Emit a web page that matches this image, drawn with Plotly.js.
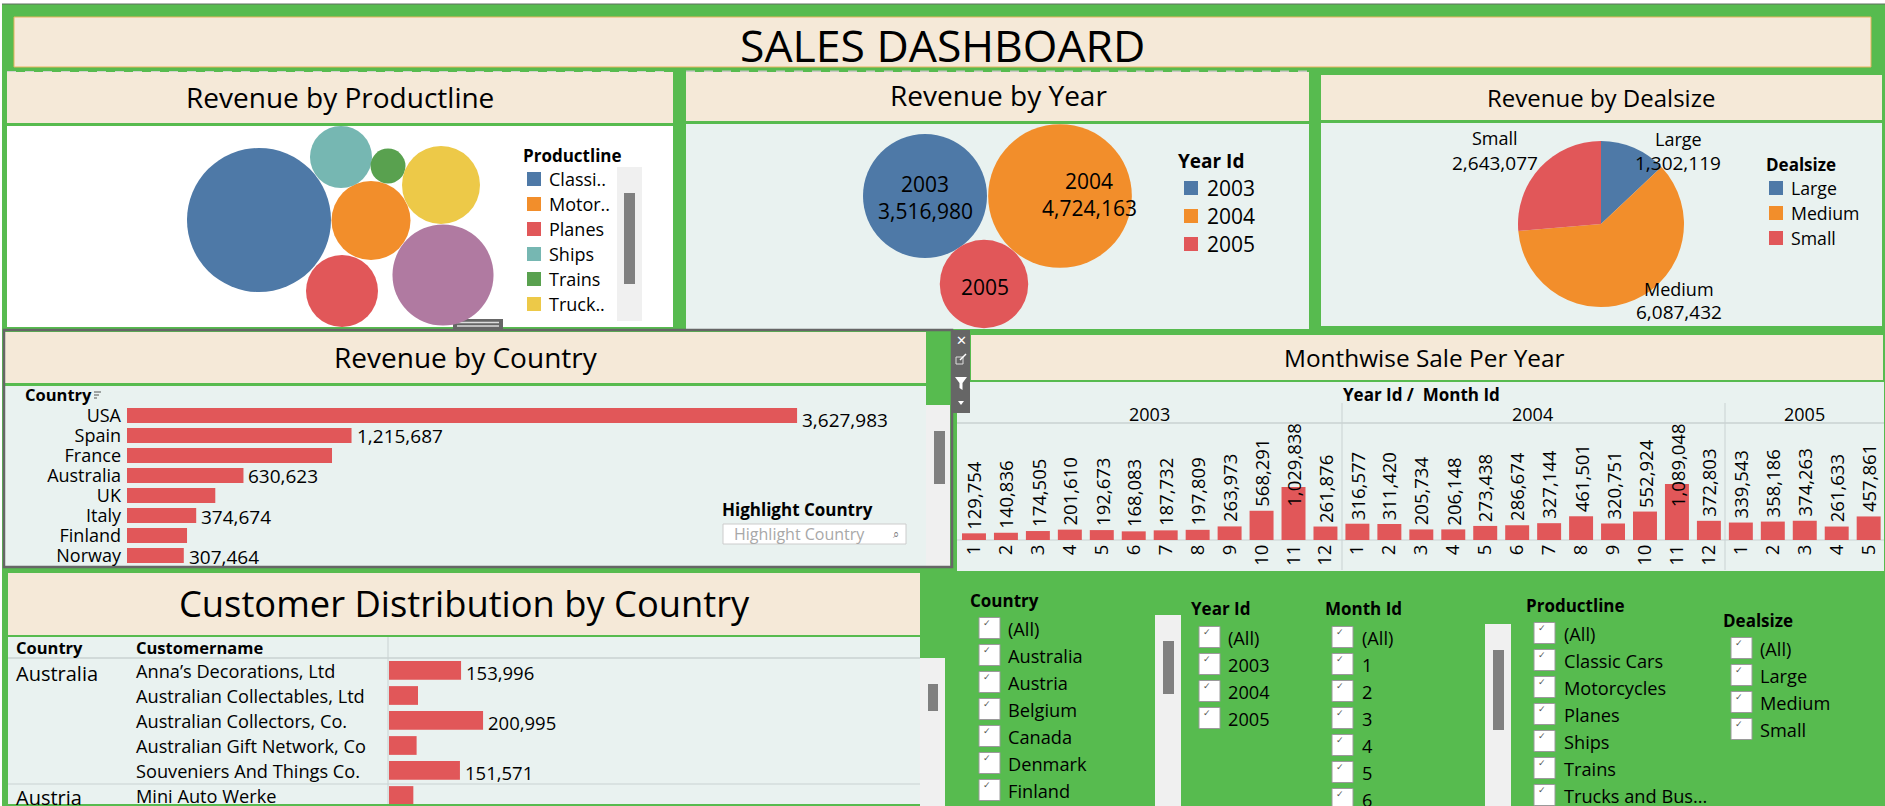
<!DOCTYPE html>
<html><head><meta charset="utf-8">
<script src="https://cdn.plot.ly/plotly-3.0.1.min.js"></script>
<style>html,body{margin:0;padding:0;background:#fff;overflow:hidden}#c{width:1885px;height:806px}</style>
</head><body><div id="c"></div>
<script>
// ---------- data ----------
const productLines = ["Classic Cars","Motorcycles","Planes","Ships","Trains","Trucks and Buses","Vintage Cars"];
const productRevenue = [3920000,1180000,980000,727000,231000,1150000,1930000];
const productLegend = ["Classi..","Motor..","Planes","Ships","Trains","Truck.."];
const years = ["2003","2004","2005"];
const yearRevenue = [3516980,4724163,1790000];
const dealSizes = ["Large","Medium","Small"];
const dealRevenue = [1302119,6087432,2643077];
const countries = ["USA","Spain","France","Australia","UK","Italy","Finland","Norway"];
const countryRevenue = [3627983,1215687,1110000,630623,478000,374674,325000,307464];
const countryLabelled = ["USA","Spain","Australia","Italy","Norway"];
const monthYears = [2003,2003,2003,2003,2003,2003,2003,2003,2003,2003,2003,2003,2004,2004,2004,2004,2004,2004,2004,2004,2004,2004,2004,2004,2005,2005,2005,2005,2005];
const months = ["1","2","3","4","5","6","7","8","9","10","11","12","1","2","3","4","5","6","7","8","9","10","11","12","1","2","3","4","5"];
const monthSales = [129754,140836,174505,201610,192673,168083,187732,197809,263973,568291,1029838,261876,316577,311420,205734,206148,273438,286674,327144,461501,320751,552924,1089048,372803,339543,358186,374263,261633,457861];
const customers = ["Anna's Decorations, Ltd","Australian Collectables, Ltd","Australian Collectors, Co.","Australian Gift Network, Co","Souveniers And Things Co.","Mini Auto Werke"];
const customerCountry = ["Australia","Australia","Australia","Australia","Australia","Austria"];
const customerRevenue = [153996,62000,200995,59000,151571,52000];
const customerLabelled = ["Anna's Decorations, Ltd","Australian Collectors, Co.","Souveniers And Things Co."];
const filterCountry = ["(All)","Australia","Austria","Belgium","Canada","Denmark","Finland"];
const filterYear = ["(All)","2003","2004","2005"];
const filterMonth = ["(All)","1","2","3","4","5","6"];
const filterProduct = ["(All)","Classic Cars","Motorcycles","Planes","Ships","Trains","Trucks and Bus..."];
const filterDeal = ["(All)","Large","Medium","Small"];

// ---------- style / layout ----------
const W=1885,H=806,FONT='"Open Sans", sans-serif';
const GREEN='#57bb4f',BEIGE='#f5e9d8',BODY='#e9f2f0',TRACK='#f0f0f0',THUMB='#808080',DARK='#666666',RULE='#c9d2d2';
const C={blue:'#4e79a7',orange:'#f28e2b',red:'#e15759',teal:'#76b7b2',green:'#59a14f',yellow:'#edc948',purple:'#b07aa1'};
const productColors=[C.blue,C.orange,C.red,C.teal,C.green,C.yellow,C.purple];
const yearColors=[C.blue,C.orange,C.red];
const productPack={x:[259,371,342,341,388,441,443],y:[220,220.5,291,157,166,185,275]};
const yearPack={x:[925,1060,984],y:[196,196,284]};
const dia=(v,k)=>v.map(a=>2*Math.sqrt(a/k));

const shapes=[],annotations=[];
function R(x0,y0,x1,y1,fill,line){shapes.push({type:'rect',xref:'x',yref:'y',x0,y0,x1,y1,fillcolor:fill||'rgba(0,0,0,0)',layer:'below',
  line:line?{color:line.c,width:line.w,dash:line.d||'solid'}:{width:0}});}
function L(x0,y0,x1,y1,c,w,d){shapes.push({type:'line',xref:'x',yref:'y',x0,y0,x1,y1,layer:'below',line:{color:c,width:w||1,dash:d||'solid'}});}
function P(path,fill){shapes.push({type:'path',xref:'x',yref:'y',path,fillcolor:fill,layer:'below',line:{width:0}});}
function T(text,x,y,size,o){o=o||{};annotations.push(Object.assign({text:o.b?'<b>'+text+'</b>':text,x,y,xref:'x',yref:'y',showarrow:false,borderpad:0,
  xanchor:o.a||'left',yanchor:'middle',font:{family:o.f||FONT,size,color:o.c||'#000'}},o.x||{}));}
function legend(title,tx,ty,ts,items,colors,sx,sy,pitch,lx,fs){T(title,tx,ty,ts,{b:1});
  items.forEach((s,i)=>{R(sx,sy+i*pitch,sx+14,sy+14+i*pitch,colors[i]);T(s,lx,sy+7+i*pitch,fs);});}
function filter(title,tx,ty,items,bx,cy,lx){T(title,tx,ty,17,{b:1});
  items.forEach((s,i)=>{const y=cy+27*i;R(bx,y-10.5,bx+21,y+10.5,'#fff',{c:'#9a9a9a',w:1});
    T('✓',bx+3,y-5,9,{c:'#555',f:'"DejaVu Sans"'});T(s,lx,y+1,18.2);});}

// page
R(2,4,W,H,GREEN);L(2,4,W,4,'#5f6f5f',1);
// banner
R(14,17,1871,67,BEIGE,{c:'#e6b45e',w:1});T('SALES DASHBOARD',942,44,44.5,{a:'center'});
L(7,71.5,673,71.5,'#cfd4cc',1,'dash');L(686,71.5,1309,71.5,'#c9c9c4',2,'dash');
// panel 1
R(7,72,673,123,BEIGE);R(7,126,673,327,'#fff');T('Revenue by Productline',340,97,28,{a:'center'});
legend('Productline',522,155,17,productLegend,productColors,527,172,25,548,18);
R(617,167,642,321,TRACK);R(624,193,635,284,THUMB);
// panel 2
R(686,72,1309,121,BEIGE);R(686,124,1309,329,BODY);T('Revenue by Year',998,95,28,{a:'center'});
legend('Year Id',1177,161,19,years,yearColors,1184,181,28,1206,21);
T('2003',925,184,21,{a:'center'});T('3,516,980',925,211,21,{a:'center'});
T('2004',1089,181,21,{a:'center'});T('4,724,163',1089,208,21,{a:'center'});
T('2005',985,287,21,{a:'center'});
// panel 3
R(1321,75,1882,120,BEIGE);R(1321,123,1882,326,BODY);T('Revenue by Dealsize',1601,97,24,{a:'center'});
legend('Dealsize',1765,164,17,dealSizes,[C.blue,C.orange,C.red],1769,181,25,1790,17.7);
T('Small',1495,138,18,{a:'center'});T(dealRevenue[2].toLocaleString('en-US'),1495,163,19,{a:'center'});
T('Large',1678,139,18,{a:'center'});T(dealRevenue[0].toLocaleString('en-US'),1678,163,19,{a:'center'});
T('Medium',1679,289,18,{a:'center'});T(dealRevenue[1].toLocaleString('en-US'),1679,312,19,{a:'center'});
// handle between rows
R(453,319,503,330,DARK);L(457,322.5,499,322.5,'#ddd',1.5);L(457,326,499,326,'#ddd',1.5);
// row 2 left (selected zone)
R(5,332,926,383,BEIGE);R(5,386,926,566,BODY);R(926,405,950,566,TRACK);R(934,431,945,484,THUMB);
R(4,330,952,567,null,{c:DARK,w:2.5});
T('Revenue by Country',466,357,28,{a:'center'});
T('Country',24,394,16.5,{b:1});
L(94,392,101,392,'#555',1);L(94,395,99,395,'#555',1);L(94,398,97,398,'#555',1);
T('Highlight Country',721,509,17,{b:1});
R(723,524,906,544,'#fff',{c:'#cccccc',w:1});T('Highlight Country',733,534,16,{c:'#a8a8a8'});
T('⌕',892,534,11,{c:'#777',f:'"DejaVu Sans"'});
// row 2 right
R(971,335,1883,380,BEIGE);R(957,382,1884,571,BODY);
T('Monthwise Sale Per Year',1424,357,24.4,{a:'center'});
T('Year Id\u00a0/ \u00a0Month Id',1421,394,17,{a:'center',b:1});
L(957,423,1884,423,RULE,1.5);L(957,540,1884,540,RULE,1);L(1342,403,1342,570,RULE,1);L(1725,403,1725,570,RULE,1);
T('2003',1149,414,18,{a:'center'});T('2004',1532,414,18,{a:'center'});T('2005',1804,414,18,{a:'center'});
// toolbar (over the neighbouring panels)
R(952,330,970,413,DARK);
T('✕',961,340,13,{a:'center',c:'#fff',f:'"DejaVu Sans"'});
R(956,357,963,364,null,{c:'#ddd',w:1});L(960,360,966,354,'#fff',1.5);
P('M955,377 L967,377 L962.5,383 L962.5,390 L959.5,388 L959.5,383 Z','#fff');
P('M958,401 L964,401 L961,405 Z','#fff');
// row 3 left
R(8,573,920,635,BEIGE);R(8,637,920,804,BODY);
T('Customer Distribution by Country',464,603,36.3,{a:'center'});
T('Country',15,647,16.5,{b:1});T('Customername',135,647,16.5,{b:1});
L(8,658,920,658,RULE,1.5);L(8,784,920,784,RULE,1);L(388,637,388,804,RULE,1);
R(920,658,945,806,TRACK);R(928,684,938,711,THUMB);
customers.forEach((n,i)=>{T(n.replace("'","’"),135,0,18.2,{x:{yref:'y4',y:n}});});
T(customerCountry[0],15,673,20);T(customerCountry[5],15,797,20);
// filters
filter('Country',969,600,filterCountry,979,628,1007);
R(1155,615,1181,806,TRACK);R(1163,641,1174,694,THUMB);
filter('Year Id',1190,608,filterYear,1199,637,1227);
filter('Month Id',1324,608,filterMonth,1332,637,1361);
R(1485,624,1511,806,TRACK);R(1493,650,1504,730,THUMB);
filter('Productline',1525,605,filterProduct,1534,633,1563);
filter('Dealsize',1722,620,filterDeal,1731,648,1759);

// data labels
const fmt=v=>v.toLocaleString('en-US');
monthSales.forEach((v,i)=>annotations.push({text:fmt(v),xref:'x3',yref:'y3',x:i,y:Math.min(v,560000),yshift:3,showarrow:false,borderpad:0,
  textangle:-90,xanchor:'center',yanchor:'bottom',font:{family:FONT,size:18.5,color:'#000'}}));
countries.forEach((c,i)=>{if(countryLabelled.includes(c))annotations.push({text:fmt(countryRevenue[i]),xref:'x2',yref:'y2',x:countryRevenue[i],y:c,xshift:4,yshift:c==='USA'?-5:-1,
  showarrow:false,borderpad:0,xanchor:'left',yanchor:'middle',font:{family:FONT,size:19,color:'#000'}});});
customers.forEach((c,i)=>{if(customerLabelled.includes(c))annotations.push({text:fmt(customerRevenue[i]),xref:'x4',yref:'y4',x:customerRevenue[i],y:c,xshift:4,yshift:-2,
  showarrow:false,borderpad:0,xanchor:'left',yanchor:'middle',font:{family:FONT,size:18.5,color:'#000'}});});

const dx=(a,b)=>[a/W,b/W],dy=(top,bot)=>[1-bot/H,1-top/H];
const hidden={showgrid:false,zeroline:false,showticklabels:false,ticks:'',showline:false};
const layout={width:W,height:H,margin:{l:0,r:0,t:0,b:0,pad:0},paper_bgcolor:'#fff',plot_bgcolor:'rgba(0,0,0,0)',showlegend:false,hovermode:false,
  font:{family:FONT,color:'#000'},shapes,annotations,bargap:0.25,
  xaxis:Object.assign({domain:[0,1],range:[0,W],fixedrange:true},hidden),
  yaxis:Object.assign({domain:[0,1],range:[H,0],fixedrange:true},hidden),
  xaxis2:Object.assign({anchor:'y2',domain:dx(127,926),range:[0,4326000]},hidden),
  yaxis2:{anchor:'x2',domain:dy(405.5,565.5),type:'category',categoryorder:'array',categoryarray:countries,range:[7.5,-0.5],tickmode:'array',tickvals:countries,ticktext:countries,showgrid:false,zeroline:false,showline:false,ticks:'',ticklabelstandoff:5,tickfont:{family:FONT,size:18,color:'#000'}},
  xaxis3:{anchor:'y3',domain:dx(958,1884),range:[-0.5,28.48],tickmode:'array',tickvals:months.map((m,i)=>i),ticktext:months,tickangle:-90,showgrid:false,zeroline:false,showline:false,ticks:'',tickfont:{family:FONT,size:18.5,color:'#000'}},
  yaxis3:Object.assign({anchor:'x3',domain:dy(423,540),range:[0,2275000]},hidden),
  xaxis4:Object.assign({anchor:'y4',domain:dx(389,920),range:[0,1134600]},hidden),
  yaxis4:Object.assign({anchor:'x4',domain:dy(658,804),type:'category',categoryorder:'array',categoryarray:customers,range:[5.34,-0.5]},hidden)
};
const data=[
 {type:'scatter',mode:'markers',x:productPack.x,y:productPack.y,text:productLines,marker:{size:dia(productRevenue,756),sizemode:'diameter',color:productColors,opacity:1,line:{width:0}},hoverinfo:'skip',cliponaxis:false},
 {type:'scatter',mode:'markers',x:yearPack.x,y:yearPack.y,text:years,marker:{size:dia(yearRevenue,915),sizemode:'diameter',color:yearColors,opacity:1,line:{width:0}},hoverinfo:'skip',cliponaxis:false},
 {type:'pie',labels:dealSizes,values:dealRevenue,sort:false,direction:'clockwise',rotation:0,textinfo:'none',marker:{colors:[C.blue,C.orange,C.red],line:{width:0}},
  domain:{x:dx(1518,1684),y:dy(141,307)},hoverinfo:'skip'},
 {type:'bar',orientation:'h',x:countryRevenue,y:countries,xaxis:'x2',yaxis:'y2',marker:{color:C.red},width:0.75,hoverinfo:'skip'},
 {type:'bar',x:months.map((m,i)=>i),y:monthSales,customdata:monthYears,xaxis:'x3',yaxis:'y3',marker:{color:C.red},width:0.75,hoverinfo:'skip'},
 {type:'bar',orientation:'h',x:customerRevenue,y:customers,xaxis:'x4',yaxis:'y4',marker:{color:C.red},width:0.75,hoverinfo:'skip'}
];
Plotly.newPlot('c',data,layout,{displayModeBar:false,staticPlot:true});
</script></body></html>
